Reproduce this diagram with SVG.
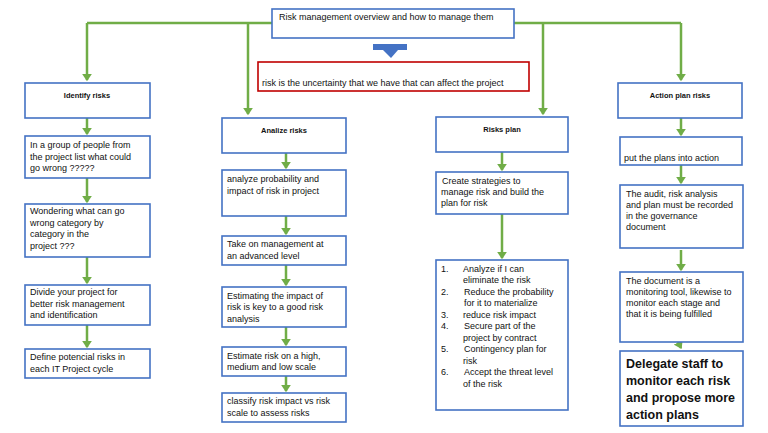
<svg xmlns="http://www.w3.org/2000/svg" width="768" height="433" viewBox="0 0 768 433">
<style>
.b{fill:#fff;stroke:#4472c4;stroke-width:1.6}
.t{font-family:"Liberation Sans",Arial,sans-serif;font-size:9px;fill:#111}
.h{font-family:"Liberation Sans",Arial,sans-serif;font-size:7.5px;font-weight:bold;fill:#111;text-anchor:middle}
.c{stroke:#70ad47;stroke-width:2.5;fill:none;marker-end:url(#a)}
.l{stroke:#70ad47;stroke-width:2.5;fill:none}
</style>
<defs><marker id="a" markerWidth="4" markerHeight="4" refX="2.5" refY="2" orient="auto" markerUnits="strokeWidth"><path d="M0,0L3,2L0,4z" fill="#70ad47"/></marker></defs>
<rect width="768" height="433" fill="#fff"/>
<g id="connectors">
<path class="l" d="M272,23H87M514,23H681"/>
<path class="c" d="M87,23V80"/><path class="c" d="M248,23V114"/><path class="c" d="M543,23V114"/><path class="c" d="M681,23V80"/>
<path class="c" d="M87,118V134"/><path class="c" d="M87,178V202"/><path class="c" d="M87,257V283"/><path class="c" d="M87,325V347"/>
<path class="c" d="M286,153V168"/><path class="c" d="M286,216V234"/><path class="c" d="M286,265V285"/><path class="c" d="M286,327V345"/><path class="c" d="M286,376V391"/>
<path class="c" d="M502,152V170"/><path class="c" d="M502,214V258"/>
<path class="c" d="M681,118V135"/><path class="c" d="M681,165V183"/><path class="c" d="M681,250V270"/><path class="c" d="M678,342L681,348"/>
</g>
<g id="top"><rect class="b" x="272" y="9" width="242" height="29"/><text class="t" x="279" y="20" font-size="10">Risk management overview and how to manage them</text></g>
<g id="bluearrow"><path d="M373,44H407V50H398L391,58L383,50H373Z" fill="#4472c4"/></g>
<g id="def"><rect x="258" y="62" width="271" height="29" fill="#fff" stroke="#c00000" stroke-width="1.6"/><text class="t" x="262" y="86">risk is the uncertainty that we have that can affect the project</text></g>

<g id="identify"><rect class="b" x="25" y="83" width="125" height="35"/><text class="h" x="87" y="98">Identify risks</text></g>
<g id="i1"><rect class="b" x="25" y="136" width="125" height="42"/><text class="t" x="30" y="148">In a group of people from</text><text class="t" x="30" y="160">the project list what could</text><text class="t" x="30" y="171">go wrong ?????</text></g>
<g id="i2"><rect class="b" x="25" y="204" width="125" height="53"/><text class="t" x="30" y="214">Wondering what can go</text><text class="t" x="30" y="226">wrong category by</text><text class="t" x="30" y="237">category in the</text><text class="t" x="30" y="249">project ???</text></g>
<g id="i3"><rect class="b" x="25" y="285" width="125" height="40"/><text class="t" x="30" y="295">Divide your project for</text><text class="t" x="30" y="307">better risk management</text><text class="t" x="30" y="318">and identification</text></g>
<g id="i4"><rect class="b" x="25" y="349" width="125" height="29"/><text class="t" x="30" y="360">Define potencial risks in</text><text class="t" x="30" y="372">each IT Project cycle</text></g>

<g id="analize"><rect class="b" x="222" y="118" width="124" height="35"/><text class="h" x="284" y="133">Analize risks</text></g>
<g id="a1"><rect class="b" x="222" y="170" width="124" height="46"/><text class="t" x="227" y="182">analyze probability and</text><text class="t" x="227" y="194">impact of risk in project</text></g>
<g id="a2"><rect class="b" x="222" y="236" width="124" height="29"/><text class="t" x="227" y="247">Take on management at</text><text class="t" x="227" y="259">an advanced level</text></g>
<g id="a3"><rect class="b" x="222" y="287" width="124" height="40"/><text class="t" x="227" y="299">Estimating the impact of</text><text class="t" x="227" y="310">risk is key to a good risk</text><text class="t" x="227" y="322">analysis</text></g>
<g id="a4"><rect class="b" x="222" y="347" width="124" height="29"/><text class="t" x="227" y="359">Estimate risk on a high,</text><text class="t" x="227" y="370">medium and low scale</text></g>
<g id="a5"><rect class="b" x="222" y="393" width="124" height="29"/><text class="t" x="227" y="404">classify risk impact vs risk</text><text class="t" x="227" y="416">scale to assess risks</text></g>

<g id="plan"><rect class="b" x="436" y="117" width="132" height="35"/><text class="h" x="502" y="132">Risks plan</text></g>
<g id="p1"><rect class="b" x="436" y="172" width="132" height="42"/><text class="t" x="442" y="184">Create strategies to</text><text class="t" x="441" y="195">manage risk and build the</text><text class="t" x="441" y="206">plan for risk</text></g>
<g id="p2"><rect class="b" x="436" y="260" width="132" height="150"/>
<g class="t" font-size="8.6">
<text x="441" y="272">1.</text><text x="463" y="272">Analyze if I can</text><text x="463" y="283">eliminate the risk</text>
<text x="441" y="295">2.</text><text x="464" y="295">Reduce the probability</text><text x="464" y="306">for it to materialize</text>
<text x="441" y="318">3.</text><text x="463" y="318">reduce risk impact</text>
<text x="441" y="329">4.</text><text x="464" y="329">Secure part of the</text><text x="463" y="341">project by contract</text>
<text x="441" y="352">5.</text><text x="464" y="352">Contingency plan for</text><text x="463" y="364">risk</text>
<text x="441" y="375">6.</text><text x="464" y="375">Accept the threat level</text><text x="463" y="387">of the risk</text></g></g>

<g id="action"><rect class="b" x="618" y="83" width="124" height="35"/><text class="h" x="680" y="98">Action plan risks</text></g>
<g id="ac1"><rect class="b" x="620" y="137" width="122" height="28"/><text class="t" x="624" y="161">put the plans into action</text></g>
<g id="ac2"><rect class="b" x="620" y="185" width="123" height="63"/><text class="t" x="626" y="197">The audit, risk analysis</text><text class="t" x="626" y="208">and plan must be recorded</text><text class="t" x="626" y="219">in the governance</text><text class="t" x="626" y="230">document</text></g>
<g id="ac3"><rect class="b" x="620" y="272" width="123" height="70"/><text class="t" x="626" y="284">The document is a</text><text class="t" x="626" y="295">monitoring tool, likewise to</text><text class="t" x="626" y="306">monitor each stage and</text><text class="t" x="626" y="317">that it is being fulfilled</text></g>
<g id="ac4"><rect class="b" x="620" y="351" width="123" height="75"/><g font-family="'Liberation Sans',Arial,sans-serif" font-size="12.5" font-weight="bold" fill="#111"><text x="626" y="368">Delegate staff to</text><text x="626" y="385">monitor each risk</text><text x="626" y="402">and propose more</text><text x="626" y="419">action plans</text></g></g>
</svg>
